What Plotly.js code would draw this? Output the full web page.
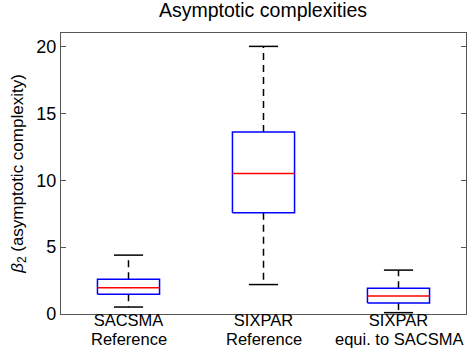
<!DOCTYPE html>
<html>
<head>
<meta charset="utf-8">
<script src="https://cdn.plot.ly/plotly-3.0.1.min.js"></script>
<style>html,body{margin:0;padding:0;background:#fff;}#chart{width:474px;height:353px;}</style>
</head>
<body>
<div id="chart"></div>
<script>
// Data
const positions   = [1, 2, 3];
const tickLine1   = ['SACSMA', 'SIXPAR', 'SIXPAR'];
const tickLine2   = ['Reference', 'Reference', 'equi. to SACSMA'];
const lowerWhisk  = [0.52, 2.2, 0.1];
const q1Values    = [1.47, 7.56, 0.82];
const medianVals  = [1.96, 10.5, 1.34];
const q3Values    = [2.59, 13.6, 1.92];
const upperWhisk  = [4.4, 20.0, 3.28];
const yTicks      = [0, 5, 10, 15, 20];

const boxHalf = 0.23, capHalf = 0.108;

const wx = [], wy = [], cx = [], cy = [], mx = [], my = [], bx = [], by = [];
positions.forEach((p, i) => {
  wx.push(p, p, null, p, p, null);
  wy.push(q3Values[i], upperWhisk[i], null, q1Values[i], lowerWhisk[i], null);
  cx.push(p - capHalf, p + capHalf, null, p - capHalf, p + capHalf, null);
  cy.push(upperWhisk[i], upperWhisk[i], null, lowerWhisk[i], lowerWhisk[i], null);
  mx.push(p - boxHalf, p + boxHalf, null);
  my.push(medianVals[i], medianVals[i], null);
  bx.push(p - boxHalf, p + boxHalf, p + boxHalf, p - boxHalf, p - boxHalf, null);
  by.push(q1Values[i], q1Values[i], q3Values[i], q3Values[i], q1Values[i], null);
});

const traces = [
  {type: 'scatter', mode: 'lines', x: wx, y: wy, hoverinfo: 'skip',
   line: {color: '#000', width: 1.5, dash: '7px,5px'}},
  {type: 'scatter', mode: 'lines', x: bx, y: by, hoverinfo: 'skip',
   line: {color: '#0000ff', width: 1.5}},
  {type: 'scatter', mode: 'lines', x: mx, y: my, hoverinfo: 'skip',
   line: {color: '#ff0000', width: 1.6}},
  {type: 'scatter', mode: 'lines', x: cx, y: cy, hoverinfo: 'skip',
   line: {color: '#000', width: 1.5}}
];

const annotations = positions.map((p, i) => ({
  x: p, xref: 'x', y: 0, yref: 'paper', yanchor: 'middle', yshift: -25,
  text: tickLine2[i], showarrow: false,
  font: {family: 'Liberation Sans, Arial, sans-serif', size: 16.5, color: '#000'}
}));

const layout = {
  width: 474, height: 353,
  margin: {l: 61, r: 7.5, t: 33, b: 39},
  paper_bgcolor: '#fff', plot_bgcolor: '#fff',
  showlegend: false,
  font: {family: 'Liberation Sans, Arial, sans-serif', color: '#000'},
  title: {text: 'Asymptotic complexities', font: {size: 19.5, color: '#000'},
          x: 0.555, xanchor: 'center', y: 0.97, yanchor: 'middle', yref: 'container'},
  xaxis: {range: [0.5, 3.5], tickvals: positions, ticktext: tickLine1,
          ticks: '', showgrid: false, zeroline: false, showline: true, mirror: true,
          linecolor: '#555', linewidth: 1.2, tickfont: {size: 16.5}, ticklabelstandoff: -9},
  yaxis: {range: [0, 21], tickvals: yTicks, ticktext: yTicks.map(String),
          ticks: 'inside', ticklen: 5, tickcolor: '#555', tickwidth: 1.2,
          showgrid: false, zeroline: false, showline: true, mirror: 'ticks',
          linecolor: '#555', linewidth: 1.2, tickfont: {size: 18},
          title: {text: '<i>β</i><sub>2</sub> (asymptotic complexity)', font: {size: 17}, standoff: 8}},
  annotations: annotations
};

Plotly.newPlot('chart', traces, layout, {displayModeBar: false, staticPlot: true});
</script>
</body>
</html>
